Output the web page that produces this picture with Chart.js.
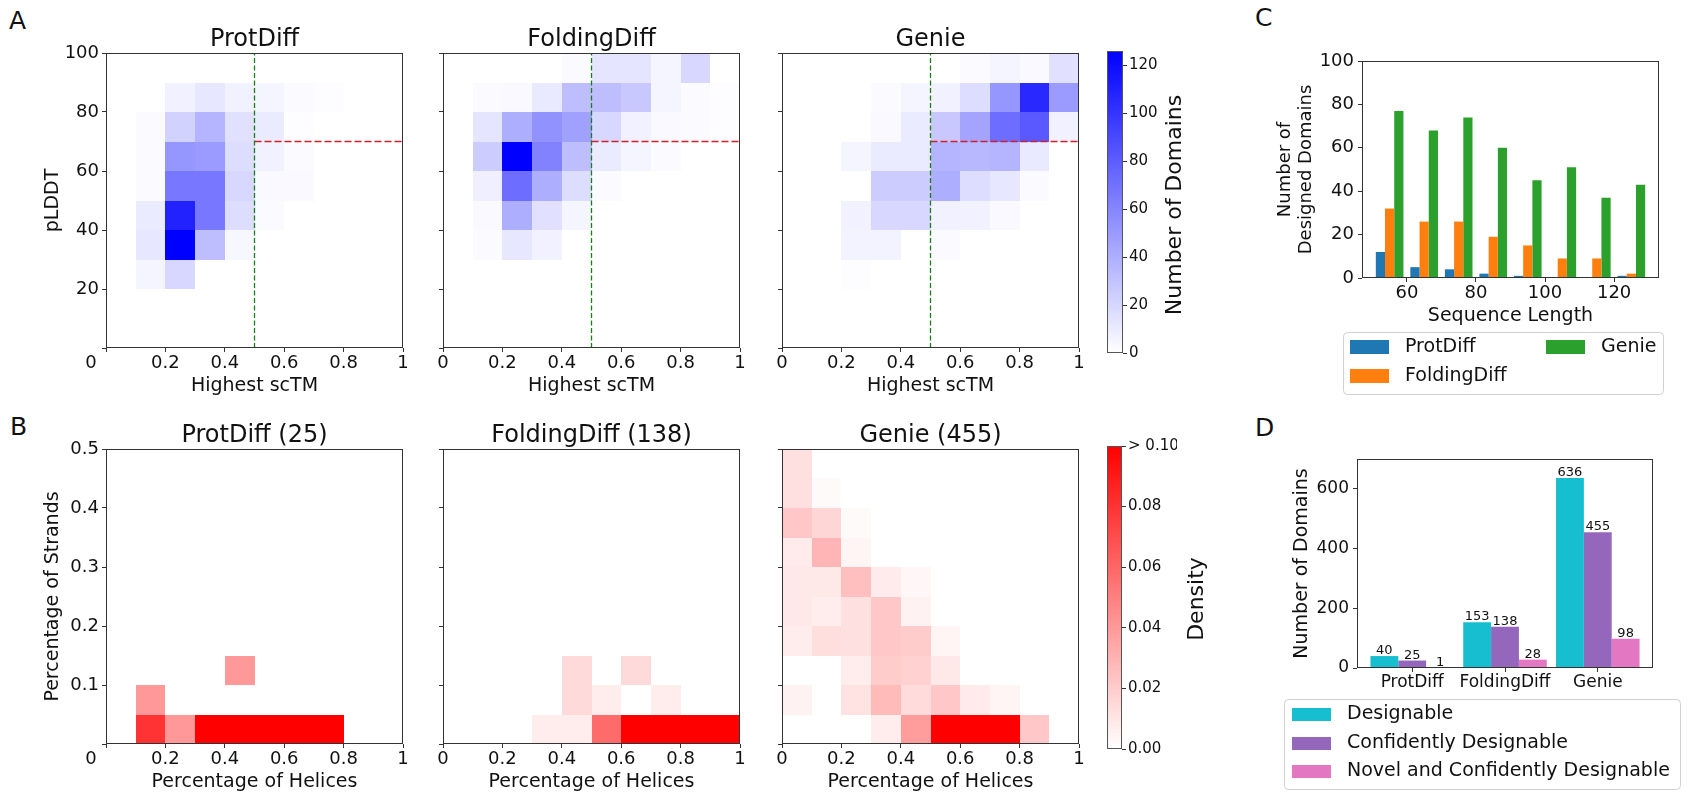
<!DOCTYPE html>
<html lang="en">
<head>
<meta charset="UTF-8">
<title>Designability of generated domains</title>
<script src="https://cdn.jsdelivr.net/npm/chart.js@4.4.1/dist/chart.umd.min.js"></script>
<style>
  body { margin: 0; background: #fff; width: 1693px; height: 804px; position: relative; overflow: hidden; font-family: 'DejaVu Sans', sans-serif; }
  canvas { position: absolute; }
  .panel { position: absolute; font-size: 25px; line-height: 1; color: #111; }
</style>
</head>
<body>
<div class="panel" style="left:9px;top:8px">A</div>
<div class="panel" style="left:10px;top:414px">B</div>
<div class="panel" style="left:1255px;top:5px">C</div>
<div class="panel" style="left:1255px;top:415px">D</div>
<script>
// ---------- data ----------
const models = ['ProtDiff', 'FoldingDiff', 'Genie'];
const designedCounts = [25, 138, 455];

const scTMEdges = [0, 0.1, 0.2, 0.3, 0.4, 0.5, 0.6, 0.7, 0.8, 0.9, 1];
const plddtEdges = [0, 10, 20, 30, 40, 50, 60, 70, 80, 90, 100];
const helixEdges = [0, 0.1, 0.2, 0.3, 0.4, 0.5, 0.6, 0.7, 0.8, 0.9, 1];
const strandEdges = [0, 0.05, 0.1, 0.15, 0.2, 0.25, 0.3, 0.35, 0.4, 0.45, 0.5];

const scTMTicks = [0, 0.2, 0.4, 0.6, 0.8, 1];
const plddtTicks = [0, 20, 40, 60, 80, 100];
const helixTicks = [0, 0.2, 0.4, 0.6, 0.8, 1];
const strandTicks = [0, 0.1, 0.2, 0.3, 0.4, 0.5];
const countBarTicks = [0, 20, 40, 60, 80, 100, 120];
const densityBarTicks = [0, 0.02, 0.04, 0.06, 0.08, 0.1];

const scTMThreshold = 0.5;
const plddtThreshold = 70;
const countMax = 126;
const densityMax = 0.1;

// number of domains per (pLDDT, scTM) bin; rows from pLDDT 90-100 down to 0-10
const protdiffPlddt = [
  [0, 0, 0, 0, 0, 0, 0, 0, 0, 0],
  [0, 0, 7, 12, 7, 5, 2, 1, 0, 0],
  [0, 2, 22, 37, 15, 10, 1, 0, 0, 0],
  [0, 2, 52, 50, 17, 7, 2, 0, 0, 0],
  [0, 2, 67, 67, 20, 3, 3, 0, 0, 0],
  [0, 10, 109, 67, 17, 2, 0, 0, 0, 0],
  [0, 12, 126, 32, 4, 0, 0, 0, 0, 0],
  [0, 5, 20, 0, 0, 0, 0, 0, 0, 0],
  [0, 0, 0, 0, 0, 0, 0, 0, 0, 0],
  [0, 0, 0, 0, 0, 0, 0, 0, 0, 0]
];
const foldingdiffPlddt = [
  [0, 0, 0, 0, 2, 13, 13, 5, 20, 0],
  [0, 2, 3, 11, 32, 32, 27, 5, 2, 1],
  [0, 13, 40, 54, 47, 20, 7, 3, 2, 1],
  [0, 25, 126, 62, 32, 10, 5, 2, 0, 0],
  [0, 8, 72, 40, 17, 2, 0, 0, 0, 0],
  [0, 3, 40, 15, 5, 0, 0, 0, 0, 0],
  [0, 2, 12, 7, 0, 0, 0, 0, 0, 0],
  [0, 0, 0, 0, 0, 0, 0, 0, 0, 0],
  [0, 0, 0, 0, 0, 0, 0, 0, 0, 0],
  [0, 0, 0, 0, 0, 0, 0, 0, 0, 0]
];
const geniePlddt = [
  [0, 0, 0, 0, 0, 0, 2, 5, 3, 15],
  [0, 0, 0, 2, 5, 7, 17, 52, 106, 50],
  [0, 0, 0, 3, 10, 27, 45, 72, 82, 7],
  [0, 0, 5, 10, 10, 37, 35, 37, 11, 0],
  [0, 0, 0, 25, 25, 40, 17, 12, 2, 0],
  [0, 0, 7, 20, 20, 7, 7, 3, 0, 0],
  [0, 0, 6, 6, 0, 2, 0, 0, 0, 0],
  [0, 0, 1, 0, 0, 0, 0, 0, 0, 0],
  [0, 0, 0, 0, 0, 0, 0, 0, 0, 0],
  [0, 0, 0, 0, 0, 0, 0, 0, 0, 0]
];

// density per (strand, helix) bin; rows from strands 0.45-0.5 down to 0-0.05
const protdiffSS = [
  [0, 0, 0, 0, 0, 0, 0, 0, 0, 0],
  [0, 0, 0, 0, 0, 0, 0, 0, 0, 0],
  [0, 0, 0, 0, 0, 0, 0, 0, 0, 0],
  [0, 0, 0, 0, 0, 0, 0, 0, 0, 0],
  [0, 0, 0, 0, 0, 0, 0, 0, 0, 0],
  [0, 0, 0, 0, 0, 0, 0, 0, 0, 0],
  [0, 0, 0, 0, 0, 0, 0, 0, 0, 0],
  [0, 0, 0, 0, 0.04, 0, 0, 0, 0, 0],
  [0, 0.04, 0, 0, 0, 0, 0, 0, 0, 0],
  [0, 0.08, 0.04, 0.12, 0.2, 0.2, 0.16, 0.12, 0, 0]
];
const foldingdiffSS = [
  [0, 0, 0, 0, 0, 0, 0, 0, 0, 0],
  [0, 0, 0, 0, 0, 0, 0, 0, 0, 0],
  [0, 0, 0, 0, 0, 0, 0, 0, 0, 0],
  [0, 0, 0, 0, 0, 0, 0, 0, 0, 0],
  [0, 0, 0, 0, 0, 0, 0, 0, 0, 0],
  [0, 0, 0, 0, 0, 0, 0, 0, 0, 0],
  [0, 0, 0, 0, 0, 0, 0, 0, 0, 0],
  [0, 0, 0, 0, 0.0145, 0, 0.0145, 0, 0, 0],
  [0, 0, 0, 0, 0.0145, 0.0072, 0, 0.0072, 0, 0],
  [0, 0, 0, 0.0072, 0.0072, 0.058, 0.254, 0.29, 0.217, 0.109]
];
const genieSS = [
  [0.012, 0, 0, 0, 0, 0, 0, 0, 0, 0],
  [0.012, 0.002, 0, 0, 0, 0, 0, 0, 0, 0],
  [0.022, 0.016, 0.002, 0, 0, 0, 0, 0, 0, 0],
  [0.008, 0.029, 0.004, 0, 0, 0, 0, 0, 0, 0],
  [0.009, 0.009, 0.025, 0.008, 0.003, 0, 0, 0, 0, 0],
  [0.009, 0.007, 0.012, 0.022, 0.005, 0, 0, 0, 0, 0],
  [0.007, 0.013, 0.012, 0.022, 0.02, 0.004, 0, 0, 0, 0],
  [0, 0, 0.007, 0.02, 0.018, 0.009, 0, 0, 0, 0],
  [0.005, 0, 0.011, 0.027, 0.014, 0.022, 0.008, 0.004, 0, 0],
  [0, 0, 0, 0.007, 0.039, 0.15, 0.16, 0.12, 0.022, 0]
];

// panel C: designed domains per sequence length
const seqLengths = [55, 65, 75, 85, 95, 105, 115, 125];
const seqLengthTicks = [60, 80, 100, 120];
const protdiffByLength = [12, 5, 4, 2, 1, 0, 0, 1];
const foldingdiffByLength = [32, 26, 26, 19, 15, 9, 9, 2];
const genieByLength = [77, 68, 74, 60, 45, 51, 37, 43];
const byLengthTicks = [0, 20, 40, 60, 80, 100];

// panel D: totals per model
const designable = [40, 153, 636];
const confidentlyDesignable = [25, 138, 455];
const novelConfidentlyDesignable = [1, 28, 98];
const totalTicks = [0, 200, 400, 600];

// ---------- helpers ----------
Chart.defaults.font.family = "'DejaVu Sans', sans-serif";
Chart.defaults.color = '#111';

const TICK = 4;
const tickMarks = { display: true, drawOnChartArea: false, drawTicks: true, tickLength: TICK, color: '#333', lineWidth: 1, offset: false };

const fmt = v => String(Math.round(v * 100) / 100);
const setTicks = arr => s => { s.ticks = arr.map(v => ({ value: v })); };

function makeCanvas(box) {
  const c = document.createElement('canvas');
  c.width = box.w; c.height = box.h;
  c.style.left = box.x + 'px'; c.style.top = box.y + 'px';
  document.body.appendChild(c);
  return c;
}

// layout padding so the chart area lands on plot
function pad(box, plot, yw, xh, th, rw) {
  return {
    left: plot.x - box.x - yw,
    top: plot.y - box.y - th,
    right: box.x + box.w - plot.x - plot.w - rw,
    bottom: box.y + box.h - plot.y - plot.h - xh
  };
}

const frame = {
  id: 'frame',
  afterDatasetsDraw(chart, args, o) {
    const { ctx, chartArea: a } = chart;
    ctx.save();
    ctx.strokeStyle = o.color || '#333';
    ctx.lineWidth = 1;
    const l = Math.round(a.left), t = Math.round(a.top);
    ctx.strokeRect(l + 0.5, t + 0.5, Math.round(a.right) - l - 1, Math.round(a.bottom) - t - 1);
    ctx.restore();
  }
};
Chart.register(frame);

const blueAt = t => { const k = Math.round(255 * (1 - t)); return `rgb(${k},${k},255)`; };
const redAt = t => { const k = Math.round(255 * (1 - t)); return `rgb(255,${k},${k})`; };

function cells(grid, xEdges, yEdges, vmax, colorAt) {
  return {
    id: 'cells',
    beforeDatasetsDraw(chart) {
      const { ctx, scales: { x, y } } = chart;
      const n = grid.length;
      ctx.save();
      grid.forEach((row, r) => {
        const yi = n - 1 - r;
        const top = Math.round(y.getPixelForValue(yEdges[yi + 1]));
        const bot = Math.round(y.getPixelForValue(yEdges[yi]));
        row.forEach((v, c) => {
          if (!v) return;
          const l = Math.round(x.getPixelForValue(xEdges[c]));
          const r2 = Math.round(x.getPixelForValue(xEdges[c + 1]));
          ctx.fillStyle = colorAt(Math.min(v / vmax, 1));
          ctx.fillRect(l, top, r2 - l, bot - top);
        });
      });
      ctx.restore();
    }
  };
}

// the first panel of each row puts its "0" a bit to the left
const cornerZero = {
  id: 'cornerZero',
  afterDraw(chart) {
    const { ctx, chartArea: a } = chart;
    ctx.save();
    ctx.font = "18px 'DejaVu Sans'";
    ctx.fillStyle = '#111';
    ctx.textAlign = 'center';
    ctx.textBaseline = 'middle';
    ctx.fillText('0', a.left - 15, a.bottom + 15);
    ctx.restore();
  }
};

function heatmap(cfg) {
  const first = !!cfg.yTitle;
  const yw = first ? cfg.plot.x - 41.6 : 8;
  const XH = 49, TH = 25;
  return new Chart(makeCanvas(cfg.box), {
    type: 'scatter',
    data: { datasets: cfg.lines || [] },
    options: {
      responsive: false, animation: false, events: [],
      layout: { padding: pad(cfg.box, cfg.plot, yw, XH, TH, 0) },
      plugins: {
        legend: { display: false }, tooltip: { enabled: false },
        title: { display: true, text: cfg.title, fullSize: false, color: '#111',
                 font: { size: 24, lineHeight: 1, weight: 'normal' }, padding: { top: 0, bottom: 1 } }
      },
      scales: {
        x: {
          type: 'linear', min: 0, max: 1, bounds: 'data',
          afterBuildTicks: setTicks(cfg.xTicks),
          afterFit: s => { s.height = XH; },
          grid: tickMarks, border: { display: false },
          ticks: { autoSkip: false, maxRotation: 0, padding: 2, font: { size: 18, lineHeight: 1 },
                   callback: v => (first && v === 0) ? '' : fmt(v) },
          title: { display: true, text: cfg.xTitle, font: { size: 19, lineHeight: 1.2 }, padding: 0 }
        },
        y: {
          type: 'linear', min: cfg.yEdges[0], max: cfg.yEdges[cfg.yEdges.length - 1], bounds: 'data',
          afterBuildTicks: setTicks(cfg.yTicks),
          afterFit: s => { s.width = yw; },
          grid: tickMarks, border: { display: false },
          ticks: { autoSkip: false, padding: 3, font: { size: 18, lineHeight: 1 },
                   callback: v => (!first || v === 0) ? '' : fmt(v) },
          title: { display: first, text: cfg.yTitle || '', font: { size: 19, lineHeight: 1.2 }, padding: 0 }
        }
      }
    },
    plugins: [cells(cfg.grid, cfg.xEdges, cfg.yEdges, cfg.vmax, cfg.colorAt)].concat(first ? [cornerZero] : [])
  });
}

function colorbar(cfg) {
  const RW = cfg.rw;
  return new Chart(makeCanvas(cfg.box), {
    type: 'scatter',
    data: { datasets: [] },
    options: {
      responsive: false, animation: false, events: [],
      layout: { padding: pad(cfg.box, cfg.plot, 0, 0, 0, RW) },
      plugins: { legend: { display: false }, tooltip: { enabled: false }, frame: { color: '#555' } },
      scales: {
        x: { display: false, min: 0, max: 1 },
        y: {
          position: 'right', min: 0, max: cfg.vmax, bounds: 'data',
          afterBuildTicks: setTicks(cfg.ticks),
          afterFit: s => { s.width = RW; },
          grid: tickMarks, border: { display: false },
          ticks: { autoSkip: false, padding: 2, font: { size: 15, lineHeight: 1 }, callback: cfg.fmt }
        }
      }
    },
    plugins: [{
      id: 'gradient',
      beforeDatasetsDraw(chart) {
        const { ctx, chartArea: a } = chart;
        const g = ctx.createLinearGradient(0, a.bottom, 0, a.top);
        g.addColorStop(0, cfg.colorAt(0));
        g.addColorStop(1, cfg.colorAt(1));
        ctx.save();
        ctx.fillStyle = g;
        ctx.fillRect(a.left, a.top, a.right - a.left, a.bottom - a.top);
        ctx.restore();
      },
      afterDraw(chart) {
        const { ctx } = chart;
        ctx.save();
        ctx.translate(cfg.labelAt[0] - cfg.box.x, cfg.labelAt[1] - cfg.box.y);
        ctx.rotate(-Math.PI / 2);
        ctx.font = "22px 'DejaVu Sans'";
        ctx.fillStyle = '#111';
        ctx.textAlign = 'center';
        ctx.textBaseline = 'middle';
        ctx.fillText(cfg.label, 0, 0);
        ctx.restore();
      }
    }]
  });
}

function boxLegend(o) {
  return {
    id: 'boxLegend',
    afterDraw(chart) {
      const { ctx, chartArea: a } = chart;
      const x0 = a.left + o.dx, y0 = a.bottom + o.dy;
      ctx.save();
      ctx.beginPath();
      ctx.roundRect(x0 + 0.5, y0 + 0.5, o.w, o.h, 4);
      ctx.fillStyle = 'rgba(255,255,255,0.8)';
      ctx.fill();
      ctx.strokeStyle = '#d0d0d0';
      ctx.lineWidth = 1;
      ctx.stroke();
      ctx.font = "19px 'DejaVu Sans'";
      ctx.textBaseline = 'middle';
      chart.data.datasets.forEach((ds, i) => {
        const sx = x0 + o.colX[o.col[i]], cy = y0 + o.rowY[o.row[i]];
        ctx.fillStyle = ds.backgroundColor;
        ctx.fillRect(sx, Math.round(cy - o.swH / 2), 39, o.swH);
        ctx.fillStyle = '#111';
        ctx.fillText(ds.label, sx + 55, cy);
      });
      ctx.restore();
    }
  };
}

// ---------- panel A ----------
const colX = [106, 443, 782];
const plotW = 297, plotH = 295;
const greenLine = { data: [{ x: scTMThreshold, y: 0 }, { x: scTMThreshold, y: 100 }], showLine: true,
  borderColor: '#1a7f1a', borderWidth: 1.3, borderDash: [5, 2.5], pointRadius: 0 };
const redLine = { data: [{ x: scTMThreshold, y: plddtThreshold }, { x: 1, y: plddtThreshold }], showLine: true,
  borderColor: '#d0202a', borderWidth: 1.6, borderDash: [7, 3], pointRadius: 0 };

const plddtGrids = [protdiffPlddt, foldingdiffPlddt, geniePlddt];
const ssGrids = [protdiffSS, foldingdiffSS, genieSS];

models.forEach((m, i) => {
  const bx = i === 0 ? 20 : colX[i] - 20;
  const bw = colX[i] + plotW + 18 - bx;
  heatmap({
    box: { x: bx, y: 10, w: bw, h: 395 },
    plot: { x: colX[i], y: 53, w: plotW, h: plotH },
    title: m, grid: plddtGrids[i], xEdges: scTMEdges, yEdges: plddtEdges,
    xTicks: scTMTicks, yTicks: plddtTicks, vmax: countMax, colorAt: blueAt,
    xTitle: 'Highest scTM', yTitle: i === 0 ? 'pLDDT' : null,
    lines: [Object.assign({}, greenLine), Object.assign({}, redLine)]
  });
  heatmap({
    box: { x: bx, y: 405, w: bw, h: 395 },
    plot: { x: colX[i], y: 449, w: plotW, h: plotH },
    title: `${m} (${designedCounts[i]})`, grid: ssGrids[i], xEdges: helixEdges, yEdges: strandEdges,
    xTicks: helixTicks, yTicks: strandTicks, vmax: densityMax, colorAt: redAt,
    xTitle: 'Percentage of Helices', yTitle: i === 0 ? 'Percentage of Strands' : null
  });
});

colorbar({
  box: { x: 1100, y: 35, w: 95, h: 335 }, plot: { x: 1107, y: 51, w: 16, h: 302 }, rw: 40,
  vmax: countMax, ticks: countBarTicks, fmt: v => String(v), colorAt: blueAt,
  label: 'Number of Domains', labelAt: [1175, 205]
});
colorbar({
  box: { x: 1100, y: 430, w: 115, h: 335 }, plot: { x: 1107, y: 446, w: 15, h: 303 }, rw: 55,
  vmax: densityMax, ticks: densityBarTicks,
  fmt: v => v >= densityMax - 1e-9 ? '> 0.10' : v.toFixed(2), colorAt: redAt,
  label: 'Density', labelAt: [1197, 599]
});

// ---------- panel C ----------
const boxC = { x: 1235, y: 28, w: 458, h: 372 };
const plotC = { x: 1362, y: 61, w: 297, h: 217 };
const ywC = plotC.x - 1274.2;
new Chart(makeCanvas(boxC), {
  type: 'bar',
  data: {
    datasets: [
      { label: 'ProtDiff', data: seqLengths.map((x, i) => ({ x, y: protdiffByLength[i] })), backgroundColor: '#1f77b4' },
      { label: 'FoldingDiff', data: seqLengths.map((x, i) => ({ x, y: foldingdiffByLength[i] })), backgroundColor: '#ff7f0e' },
      { label: 'Genie', data: seqLengths.map((x, i) => ({ x, y: genieByLength[i] })), backgroundColor: '#2ca02c' }
    ]
  },
  options: {
    responsive: false, animation: false, events: [],
    layout: { padding: pad(boxC, plotC, ywC, 49, 0, 0) },
    datasets: { bar: { categoryPercentage: 0.8, barPercentage: 1, borderWidth: 0 } },
    plugins: { legend: { display: false }, tooltip: { enabled: false } },
    scales: {
      x: {
        type: 'linear', min: 47, max: 133, bounds: 'data', offset: false,
        afterBuildTicks: setTicks(seqLengthTicks),
        afterFit: s => { s.height = 49; },
        grid: tickMarks, border: { display: false },
        ticks: { autoSkip: false, maxRotation: 0, padding: 2, font: { size: 18, lineHeight: 1 } },
        title: { display: true, text: 'Sequence Length', font: { size: 19, lineHeight: 1.2 }, padding: 0 }
      },
      y: {
        min: 0, max: 100, bounds: 'data',
        afterBuildTicks: setTicks(byLengthTicks),
        afterFit: s => { s.width = ywC; },
        grid: tickMarks, border: { display: false },
        ticks: { autoSkip: false, padding: 4, font: { size: 18, lineHeight: 1 } },
        title: { display: true, text: ['Number of', 'Designed Domains'], font: { size: 18, lineHeight: 1.2 }, padding: 0 }
      }
    }
  },
  plugins: [boxLegend({ dx: -19, dy: 54, w: 320, h: 62, colX: [7, 203], rowY: [15, 44],
                        col: [0, 0, 1], row: [0, 1, 0], swH: 14 })]
});

// ---------- panel D ----------
const boxD = { x: 1235, y: 400, w: 458, h: 400 };
const plotD = { x: 1357, y: 459, w: 296, h: 209 };
const ywD = plotD.x - 1290.6;
const groupIdx = [0, 1, 2];
new Chart(makeCanvas(boxD), {
  type: 'bar',
  data: {
    datasets: [
      { label: 'Designable', data: groupIdx.map(i => ({ x: i, y: designable[i] })), backgroundColor: '#17becf' },
      { label: 'Confidently Designable', data: groupIdx.map(i => ({ x: i, y: confidentlyDesignable[i] })), backgroundColor: '#9467bd' },
      { label: 'Novel and Confidently Designable', data: groupIdx.map(i => ({ x: i, y: novelConfidentlyDesignable[i] })), backgroundColor: '#e377c2' }
    ]
  },
  options: {
    responsive: false, animation: false, events: [],
    layout: { padding: pad(boxD, plotD, ywD, 30, 0, 0) },
    datasets: { bar: { categoryPercentage: 0.9, barPercentage: 1, borderWidth: 0 } },
    plugins: { legend: { display: false }, tooltip: { enabled: false } },
    scales: {
      x: {
        type: 'linear', min: -0.595, max: 2.595, bounds: 'data', offset: false,
        afterBuildTicks: setTicks(groupIdx),
        afterFit: s => { s.height = 30; },
        grid: tickMarks, border: { display: false },
        ticks: { autoSkip: false, maxRotation: 0, padding: 2.5, font: { size: 17, lineHeight: 1 },
                 callback: v => models[v] || '' }
      },
      y: {
        min: 0, max: 700, bounds: 'data',
        afterBuildTicks: setTicks(totalTicks),
        afterFit: s => { s.width = ywD; },
        grid: tickMarks, border: { display: false },
        ticks: { autoSkip: false, padding: 4, font: { size: 17, lineHeight: 1 } },
        title: { display: true, text: 'Number of Domains', font: { size: 19, lineHeight: 1.2 }, padding: 0 }
      }
    }
  },
  plugins: [
    {
      id: 'barValues',
      afterDatasetsDraw(chart) {
        const { ctx } = chart;
        ctx.save();
        ctx.font = "13px 'DejaVu Sans'";
        ctx.fillStyle = '#111';
        ctx.textAlign = 'center';
        ctx.textBaseline = 'alphabetic';
        chart.data.datasets.forEach((ds, i) => {
          chart.getDatasetMeta(i).data.forEach((bar, j) => ctx.fillText(String(ds.data[j].y), bar.x, bar.y - 2));
        });
        ctx.restore();
      }
    },
    boxLegend({ dx: -73, dy: 31, w: 396, h: 90, colX: [8], rowY: [15, 44, 72],
                col: [0, 0, 0], row: [0, 1, 2], swH: 13 })
  ]
});
</script>
</body>
</html>
